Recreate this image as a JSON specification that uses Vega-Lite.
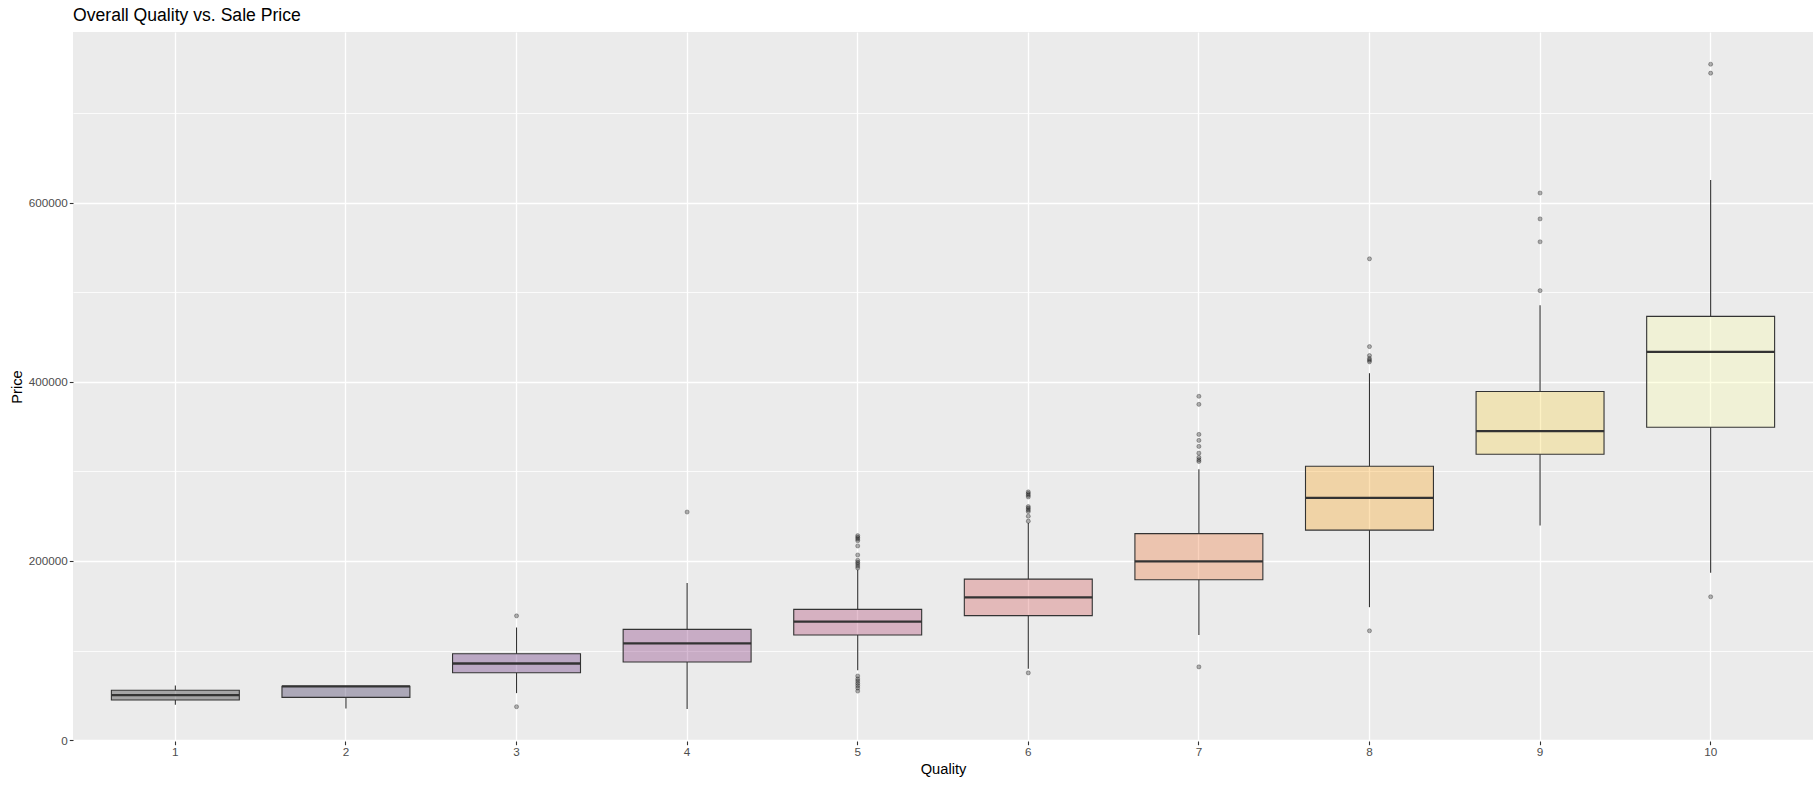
{
  "$schema": "https://vega.github.io/schema/vega-lite/v6.json",
  "autosize": "none",
  "width": 1740,
  "height": 709,
  "padding": {"left": 73, "top": 32, "right": 7, "bottom": 46},
  "background": "white",
  "title": {"text": "Overall Quality vs. Sale Price", "anchor": "start", "frame": "group", "font": "Liberation Sans", "fontSize": 17.6, "fontWeight": "normal", "color": "black", "offset": 7},
  "config": {
    "view": {"fill": "#EBEBEB", "stroke": null},
    "font": "Liberation Sans"
  },
  "datasets": {
    "stats": [
      {"quality": 1, "lo": 39300, "q1": 44725, "med": 50150, "q3": 55575, "hi": 61000},
      {"quality": 2, "lo": 35300, "q1": 47650, "med": 60000, "q3": 60000, "hi": 60000},
      {"quality": 3, "lo": 52400, "q1": 75100, "med": 85500, "q3": 96300, "hi": 125700},
      {"quality": 4, "lo": 34600, "q1": 87200, "med": 108000, "q3": 123600, "hi": 175400},
      {"quality": 5, "lo": 77800, "q1": 117300, "med": 132200, "q3": 146000, "hi": 190300},
      {"quality": 6, "lo": 79500, "q1": 139000, "med": 159300, "q3": 179800, "hi": 242500},
      {"quality": 7, "lo": 117200, "q1": 179100, "med": 199600, "q3": 230600, "hi": 302600},
      {"quality": 8, "lo": 148400, "q1": 234500, "med": 270600, "q3": 305900, "hi": 409800},
      {"quality": 9, "lo": 239700, "q1": 319200, "med": 345200, "q3": 389400, "hi": 485600},
      {"quality": 10, "lo": 186800, "q1": 349500, "med": 433700, "q3": 473300, "hi": 625700}
    ],
    "outliers": [
      {"quality": 3, "price": 138700},
      {"quality": 3, "price": 37200},
      {"quality": 4, "price": 254700},
      {"quality": 5, "price": 228300},
      {"quality": 5, "price": 226400},
      {"quality": 5, "price": 224600},
      {"quality": 5, "price": 222700},
      {"quality": 5, "price": 216800},
      {"quality": 5, "price": 206700},
      {"quality": 5, "price": 200700},
      {"quality": 5, "price": 198500},
      {"quality": 5, "price": 196600},
      {"quality": 5, "price": 194400},
      {"quality": 5, "price": 192200},
      {"quality": 5, "price": 71500},
      {"quality": 5, "price": 68200},
      {"quality": 5, "price": 65900},
      {"quality": 5, "price": 63300},
      {"quality": 5, "price": 60700},
      {"quality": 5, "price": 58100},
      {"quality": 5, "price": 54700},
      {"quality": 6, "price": 75000},
      {"quality": 6, "price": 277200},
      {"quality": 6, "price": 275400},
      {"quality": 6, "price": 273500},
      {"quality": 6, "price": 271600},
      {"quality": 6, "price": 260800},
      {"quality": 6, "price": 259000},
      {"quality": 6, "price": 257100},
      {"quality": 6, "price": 255200},
      {"quality": 6, "price": 250000},
      {"quality": 6, "price": 244500},
      {"quality": 7, "price": 81700},
      {"quality": 7, "price": 384000},
      {"quality": 7, "price": 375000},
      {"quality": 7, "price": 341400},
      {"quality": 7, "price": 334700},
      {"quality": 7, "price": 328000},
      {"quality": 7, "price": 320500},
      {"quality": 7, "price": 315700},
      {"quality": 7, "price": 313100},
      {"quality": 7, "price": 311200},
      {"quality": 8, "price": 122000},
      {"quality": 8, "price": 537600},
      {"quality": 8, "price": 439500},
      {"quality": 8, "price": 429500},
      {"quality": 8, "price": 426200},
      {"quality": 8, "price": 424300},
      {"quality": 8, "price": 422500},
      {"quality": 9, "price": 611100},
      {"quality": 9, "price": 582200},
      {"quality": 9, "price": 556600},
      {"quality": 9, "price": 502000},
      {"quality": 10, "price": 755000},
      {"quality": 10, "price": 745000},
      {"quality": 10, "price": 160000}
    ]
  },
  "encoding": {
    "x": {
      "field": "quality", "type": "ordinal", "sort": "ascending",
      "scale": {"type": "band", "paddingInner": 0, "paddingOuter": 0.1},
      "axis": {
        "title": "Quality", "labelAngle": 0, "grid": true, "gridColor": "white", "gridWidth": 1.3,
        "bandPosition": 0.5, "domain": false, "tickColor": "#333333", "tickSize": 3.7, "tickWidth": 1.1,
        "labelColor": "#4D4D4D", "labelFontSize": 11.7, "labelPadding": 2,
        "titleFontSize": 14.67, "titleFontWeight": "normal", "titleColor": "black", "titlePadding": 3
      }
    }
  },
  "layer": [
    {
      "data": {"name": "stats"},
      "mark": {"type": "rule", "color": "#333333", "strokeWidth": 1.1},
      "encoding": {
        "y": {
          "field": "lo", "type": "quantitative",
          "scale": {"domain": [-1105, 791005], "nice": false, "zero": false},
          "axis": {
            "title": "Price",
            "values": [0, 100000, 200000, 300000, 400000, 500000, 600000, 700000],
            "format": "d",
            "labelExpr": "datum.value % 200000 === 0 ? datum.label : ''",
            "grid": true, "gridColor": "white",
            "gridWidth": {"condition": {"test": "datum.value % 200000 === 0", "value": 1.3}, "value": 0.8},
            "domain": false,
            "tickColor": {"condition": {"test": "datum.value % 200000 === 0", "value": "#333333"}, "value": "transparent"},
            "tickSize": 3.7, "tickWidth": 1.1,
            "labelColor": "#4D4D4D", "labelFontSize": 11.7, "labelPadding": 2,
            "titleFontSize": 14.67, "titleFontWeight": "normal", "titleColor": "black", "titlePadding": 4
          }
        },
        "y2": {"field": "q1"}
      }
    },
    {
      "data": {"name": "stats"},
      "mark": {"type": "rule", "color": "#333333", "strokeWidth": 1.1},
      "encoding": {
        "y": {"field": "q3", "type": "quantitative"},
        "y2": {"field": "hi"}
      }
    },
    {
      "data": {"name": "stats"},
      "mark": {"type": "bar", "width": {"band": 0.75}, "fillOpacity": 0.3, "stroke": "#333333", "strokeWidth": 1.1},
      "encoding": {
        "y": {"field": "q3", "type": "quantitative"},
        "y2": {"field": "q1"},
        "fill": {
          "field": "quality", "type": "ordinal", "legend": null,
          "scale": {"domain": [1, 2, 3, 4, 5, 6, 7, 8, 9, 10], "range": ["#000004", "#1B0C42", "#4B0C6B", "#781C6D", "#A52C60", "#CF4446", "#ED6925", "#FB9A06", "#F7D03C", "#FCFFA4"]}
        }
      }
    },
    {
      "data": {"name": "stats"},
      "mark": {"type": "tick", "color": "#333333", "thickness": 2.3, "size": 128, "opacity": 1},
      "encoding": {
        "y": {"field": "med", "type": "quantitative"}
      }
    },
    {
      "data": {"name": "outliers"},
      "mark": {"type": "point", "shape": "circle", "fill": "black", "fillOpacity": 0.3, "stroke": "black", "strokeOpacity": 0.3, "strokeWidth": 0.9, "size": 17},
      "encoding": {
        "y": {"field": "price", "type": "quantitative"}
      }
    }
  ]
}
